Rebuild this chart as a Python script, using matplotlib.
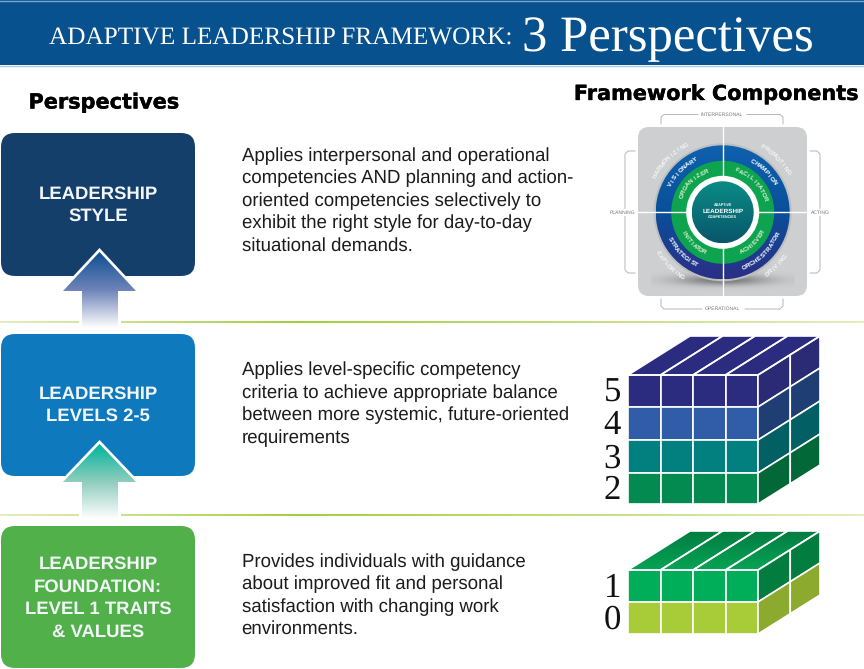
import numpy as np
import matplotlib
matplotlib.use('Agg')
import matplotlib.pyplot as plt
from matplotlib.patches import FancyBboxPatch, Polygon, Circle
from matplotlib.colors import LinearSegmentedColormap
import matplotlib.patheffects as pe

# small rotated glyphs on the wheel come out jumbled with hinting on
plt.rcParams['text.hinting'] = 'no_hinting'

# text content
title_small = "ADAPTIVE LEADERSHIP FRAMEWORK:"
title_big = "3 Perspectives"
box_labels = ["LEADERSHIP\nSTYLE", "LEADERSHIP\nLEVELS 2-5", "LEADERSHIP\nFOUNDATION:\nLEVEL 1 TRAITS\n& VALUES"]
box_colors = ["#153f6b", "#0f79bd", "#52b04a"]
descriptions = [
    "Applies interpersonal and operational\ncompetencies AND planning and action-\noriented competencies selectively to\nexhibit the right style for day-to-day\nsituational demands.",
    "Applies level-specific competency\ncriteria to achieve appropriate balance\nbetween more systemic, future-oriented\nrequirements",
    "Provides individuals with guidance\nabout improved fit and personal\nsatisfaction with changing work\nenvironments.",
]

# wheel labels, same quadrant order in each list
outer_labels = ["HARMONIZING", "PROMOTING", "EXPLORING", "DRIVING"]
blue_labels = ["VISIONARY", "CHAMPION", "STRATEGIST", "ORCHESTRATOR"]
green_labels = ["ORGANIZER", "FACILITATOR", "INITIATOR", "ACHIEVER"]
label_angles = [135, 45, 225, 315]
outer_steps = [3.3, 3.4, 3.2, 3.0]
blue_steps = [4.3, 4.25, 3.9, 4.25]
green_steps = [5.9, 5.3, 4.7, 5.2]
side_labels = ["INTERPERSONAL", "OPERATIONAL", "PLANNING", "ACTING"]

# cube levels
upper_levels = ["5", "4", "3", "2"]
upper_front = ["#2b2c80", "#315ca8", "#02807f", "#038a50"]
upper_side = ["#2a2a75", "#1f3f74", "#025f64", "#036838"]
lower_levels = ["1", "0"]
lower_front = ["#00ae5a", "#a8cc38"]
lower_side = ["#037c40", "#8cab2e"]

fig = plt.figure(figsize=(8.64, 6.69), dpi=100)
ax = fig.add_axes([0, 0, 1, 1])
ax.set_xlim(0, 864)
ax.set_ylim(669, 0)
ax.axis('off')


def gradient(x0, x1, y0, y1, stops, clip=None, horizontal=False, zorder=1):
    cmap = LinearSegmentedColormap.from_list('g', stops)
    g = np.linspace(0, 1, 256)
    g = g.reshape(1, -1) if horizontal else g.reshape(-1, 1)
    im = ax.imshow(g, extent=(x0, x1, y1, y0), cmap=cmap, vmin=0, vmax=1,
                   aspect='auto', zorder=zorder, interpolation='bilinear')
    if clip is not None:
        im.set_clip_path(clip)
    return im


def round_box(x, y, w, h, r, color, zorder=2):
    p = FancyBboxPatch((x + r, y + r), w - 2*r, h - 2*r, boxstyle=f"round,pad={r},rounding_size={r}",
                       fc=color, ec='none', zorder=zorder)
    ax.add_patch(p)
    return p


def up_arrow(tip_y, head_y, bottom_y, top_color, mid_color):
    pts = [(99.5, tip_y), (136, head_y), (118, head_y), (118, bottom_y),
           (82, bottom_y), (82, head_y), (63, head_y)]
    halo = [(99.5, tip_y - 4), (140, head_y + 0.5), (59, head_y + 0.5)]
    ax.add_patch(Polygon(halo, fc='white', ec='none', zorder=3))
    ax.add_patch(Polygon([(79, head_y), (79, bottom_y + 3), (121, bottom_y + 3), (121, head_y)],
                         fc='white', ec='none', zorder=3))
    poly = Polygon(pts, fc='none', ec='none', transform=ax.transData, zorder=4)
    ax.add_patch(poly)
    gradient(60, 140, tip_y, bottom_y, [top_color, mid_color, "#ffffff"], clip=poly, zorder=4)


def curved(text, cx, cy, r, angle, size, color, step):
    # one rotated glyph at a time around the ring
    flip = 180 < angle < 360
    offs = (np.arange(len(text)) - (len(text) - 1) / 2) * step
    for ch, o in zip(text, offs):
        a = angle + o if flip else angle - o
        rad = np.radians(a)
        rot = a + 90 if flip else a - 90
        ax.text(cx + r*np.cos(rad), cy - r*np.sin(rad), ch, fontsize=size, color=color,
                fontweight='bold', family='Liberation Sans', rotation=rot,
                rotation_mode='anchor', ha='center', va='center', zorder=8)


def cube(x0, x1, y_rows, fronts, sides, top_color, top_color2, numbers):
    dx, dy = 62, -39
    cols = np.linspace(x0, x1, 5)
    lw = 1.2
    y_top = y_rows[0]
    # top face strips
    for c0, c1 in zip(cols[:-1], cols[1:]):
        pts = [(c0, y_top), (c1, y_top), (c1 + dx, y_top + dy), (c0 + dx, y_top + dy)]
        poly = Polygon(pts, fc=top_color, ec='none', zorder=3)
        ax.add_patch(poly)
        gradient(c0, c1 + dx, y_top + dy, y_top, [top_color2, top_color], clip=poly, zorder=3)
        ax.add_patch(Polygon(pts, fc='none', ec='white', lw=lw, zorder=4))
    for i, (f, s) in enumerate(zip(fronts, sides)):
        y0, y1 = y_rows[i], y_rows[i + 1]
        for c0, c1 in zip(cols[:-1], cols[1:]):
            ax.add_patch(Polygon([(c0, y0), (c1, y0), (c1, y1), (c0, y1)], fc=f, ec='white', lw=lw, zorder=3))
        for t0, t1 in [(0, 0.52), (0.52, 1)]:
            ax.add_patch(Polygon([(x1 + t0*dx, y0 + t0*dy), (x1 + t1*dx, y0 + t1*dy),
                                  (x1 + t1*dx, y1 + t1*dy), (x1 + t0*dx, y1 + t0*dy)],
                                 fc=s, ec='white', lw=lw, zorder=3))
        ax.text(612.5, (y0 + y1) / 2 + 2.5, numbers[i], fontsize=25, family='Liberation Serif',
                ha='center', va='center', color='#111111', zorder=5)


# header band
ax.add_patch(Polygon([(0, 0), (864, 0), (864, 65), (0, 65)], fc="#07518f", ec='none', zorder=1))
ax.plot([0, 864], [65.5, 65.5], color="#a9cbe4", lw=1, zorder=2)
ax.plot([0, 864], [0.5, 0.5], color="#7aa6c9", lw=1, zorder=2)
ax.text(49, 44, title_small, fontsize=18.2, family='Liberation Serif', color='white', ha='left', va='baseline', zorder=3)
ax.text(522, 51, title_big, fontsize=36.5, family='Liberation Serif', color='white', ha='left', va='baseline', zorder=3)

# section headings
head_fx = [pe.withStroke(linewidth=0.25, foreground='black')]
ax.text(104, 108.5, "Perspectives", fontsize=15.0, fontweight='bold', family='DejaVu Sans',
        ha='center', va='baseline', color='black', path_effects=head_fx, zorder=3)
ax.text(716.5, 100, "Framework Components", fontsize=15.0, fontweight='bold', family='DejaVu Sans',
        ha='center', va='baseline', color='black', path_effects=head_fx, zorder=3)

# green dividers
for y in [322.5, 515.5]:
    gradient(0, 300, y - 1, y + 1, ["#e4eec0", "#a4cf3c"], horizontal=True, zorder=1)
    gradient(300, 864, y - 1, y + 1, ["#a4cf3c", "#e4eec0"], horizontal=True, zorder=1)

# left boxes
box_y = [133, 334, 526]
box_h = [143, 142, 142]
text_y = [205, 405, 598]
for y, h, ty, label, color in zip(box_y, box_h, text_y, box_labels, box_colors):
    round_box(1, y, 194, h, 14, color)
    ax.text(98, ty, label, fontsize=13.3, fontweight='bold', family='Liberation Sans', color='#f2f6f8',
            ha='center', va='center', linespacing=1.45, zorder=5)

up_arrow(252, 291, 328, "#0d4f92", "#6f84b9")
up_arrow(444, 482, 519, "#00b59c", "#8fcdbd")

# descriptions
desc_y = [201, 404, 595.5]
for y, d in zip(desc_y, descriptions):
    ax.text(241.5, y, d, fontsize=13.4, family='Liberation Sans', color='#1c1c1c', ha='left', va='center',
            linespacing=1.35, zorder=3)

# competency wheel
cx, cy = 722.7, 212.3
round_box(638, 127, 169, 169, 11, "#cdcfd1")

# soft shadow under the wheel
sx, sy = np.meshgrid(np.linspace(-1, 1, 160), np.linspace(-1, 1, 40))
shade = np.zeros((40, 160, 4))
shade[..., :3] = 0.25
shade[..., 3] = 0.6 * np.exp(-(sx**2 * 2.5 + sy**2 * 5))
ax.imshow(shade, extent=(cx - 72, cx + 72, 292, 268), aspect='auto', zorder=3, interpolation='bilinear')

ax.add_patch(Circle((cx, cy), 69, fc="#bcbec0", ec='none', zorder=3))
outer_ring = Circle((cx, cy), 67, fc='none', ec='none', zorder=4)
ax.add_patch(outer_ring)
gradient(cx - 67, cx + 67, cy - 67, cy + 67, ["#0e62ae", "#0a4f9a", "#2b2f86"], clip=outer_ring, zorder=4)
ax.add_patch(Circle((cx, cy), 51.5, fc="#0ea34f", ec='none', zorder=5))
ax.add_patch(Circle((cx, cy), 36.5, fc="white", ec='none', zorder=6))
core = Circle((cx, cy), 31, fc='none', ec='none', zorder=7)
ax.add_patch(core)
gradient(cx - 31, cx + 31, cy - 31, cy + 31, ["#0b8c86", "#08566a"], clip=core, zorder=7)

# white cross over the wheel
ax.plot([cx, cx], [127, cy - 36], color='white', lw=1.0, zorder=6)
ax.plot([cx, cx], [cy + 36, 296], color='white', lw=1.0, zorder=6)
ax.plot([638, cx - 36], [cy, cy], color='white', lw=1.0, zorder=6)
ax.plot([cx + 36, 807], [cy, cy], color='white', lw=1.0, zorder=6)

for text, a, st in zip(outer_labels, label_angles, outer_steps):
    curved(text, cx, cy, 76.5, a, 4.6, "#f4f4f4", st)
for text, a, st in zip(blue_labels, label_angles, blue_steps):
    curved(text, cx, cy, 59, a, 4.6, "white", st)
for text, a, st in zip(green_labels, label_angles, green_steps):
    curved(text, cx, cy, 44, a, 4.6, "#d9f0d0", st)
ax.text(cx, cy - 7, "ADAPTIVE", fontsize=2.6, fontweight='bold', color='white', ha='center', va='center',
        family='Liberation Sans', zorder=8)
ax.text(cx, cy - 1, "LEADERSHIP", fontsize=4.6, fontweight='bold', color='white', ha='center', va='center',
        family='Liberation Sans', zorder=8)
ax.text(cx, cy + 5, "COMPETENCIES", fontsize=2.6, fontweight='bold', color='white', ha='center', va='center',
        family='Liberation Sans', zorder=8)

# brackets around the wheel
gc = "#ababab"
ax.plot([661, 661, 664, 698], [124, 117, 114.5, 114.5], color=gc, lw=0.6, zorder=3)
ax.plot([783, 783, 780, 747], [124, 117, 114.5, 114.5], color=gc, lw=0.6, zorder=3)
ax.plot([661, 661, 664, 702], [299, 306, 309, 309], color=gc, lw=0.6, zorder=3)
ax.plot([783, 783, 780, 745], [299, 306, 309, 309], color=gc, lw=0.6, zorder=3)
ax.plot([635, 628, 625, 625, 628, 635], [151, 151, 154, 270, 273, 273], color=gc, lw=0.6, zorder=3)
ax.plot([810, 817, 820, 820, 817, 810], [151, 151, 154, 270, 273, 273], color=gc, lw=0.6, zorder=3)
ax.text(722, 115, side_labels[0], fontsize=3.6, color='#777777', ha='center', va='center', family='Liberation Sans')
ax.text(722, 309, side_labels[1], fontsize=3.6, color='#777777', ha='center', va='center', family='Liberation Sans')
ax.text(622, 212.6, side_labels[2], fontsize=3.6, color='#777777', ha='center', va='center', family='Liberation Sans',
        bbox=dict(fc='white', ec='none', pad=1))
ax.text(820, 212.6, side_labels[3], fontsize=3.6, color='#777777', ha='center', va='center', family='Liberation Sans',
        bbox=dict(fc='white', ec='none', pad=1))

# level cubes
cube(628, 758, [375, 407, 440, 473, 504], upper_front, upper_side, "#2b2c80", "#2b2c80", upper_levels)
cube(628, 758, [570, 602, 634], lower_front, lower_side, "#04a455", "#037c40", lower_levels)

ax.set_xlim(0, 864)
ax.set_ylim(669, 0)
fig.savefig('out.png', dpi=100)
